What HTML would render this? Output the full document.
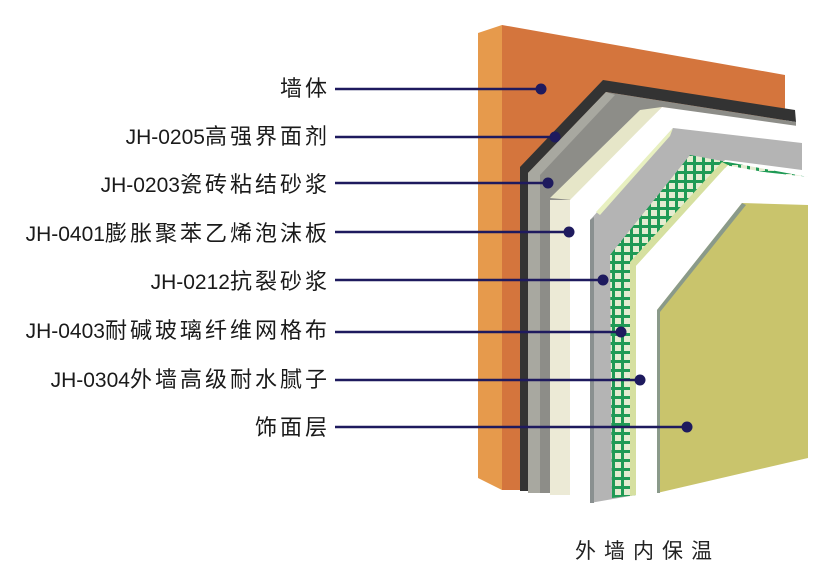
<!DOCTYPE html>
<html><head><meta charset="utf-8"><style>
html,body{margin:0;padding:0;background:#fff;}
body{width:826px;height:570px;overflow:hidden;position:relative;font-family:"Liberation Sans","Noto Sans CJK SC",sans-serif;}
.l{position:absolute;right:496px;font-size:22px;letter-spacing:3px;color:#1a1a1a;white-space:nowrap;line-height:24px;font-family:"Noto Sans CJK SC",sans-serif;}
.l span{font-family:"Liberation Sans",sans-serif;font-size:21px;letter-spacing:0;}
</style></head><body>
<svg width="826" height="570" style="position:absolute;left:0;top:0">
<defs>
<pattern id="mesh" width="9" height="9" patternUnits="userSpaceOnUse">
<rect width="9" height="9" fill="#e4ecd0"/>
<rect x="0" y="0" width="3" height="9" fill="#1f9a55"/>
<rect x="0" y="0" width="9" height="3" fill="#1f9a55"/>
</pattern>
</defs>
<polygon points="502,25 785,75 785,470 520,490 502,490" fill="#d4753d"/>
<polygon points="478,33 502,25 502,490 478,478" fill="#e69a4c"/>
<polygon points="520,167 603,80 795,110 796,122 606,92 528,173 528,491 520,491" fill="#333"/>
<polygon points="528,173 606,92 796,122 796,130 662,107 570,200 550,200 550,493 528,493" fill="#8d8d88"/>
<polygon points="528,173 606,92 615,95 540,175 540,493 528,493" fill="#a8a8a0"/>
<polygon points="550,200 570,200 570,495 550,495" fill="#ecead6"/>
<polygon points="550,198 640,110 662,107 572,200" fill="#e6e6c8"/>
<polygon points="570,200 662,107 826,130 826,500 570,500" fill="#ffffff"/>
<polygon points="590,220 673,128 802,143 802,170 725,160 636,260 636,495 590,503" fill="#b4b4b4"/>
<polygon points="590,220 594,217 594,503 590,503" fill="#8a9090"/>
<polygon points="600,215 670,136 673,128 596,212" fill="#e8f0c0"/>
<polygon points="610,255 690,155 808,177 808,180 725,165 636,262 636,495 612,498" fill="url(#mesh)"/>
<polygon points="630,262 722,162 728,165 636,266 636,495 630,496" fill="#d6e0a0"/>
<polygon points="636,266 725,168 810,177 826,178 826,205 742,203 657,310 657,493 636,495" fill="#ffffff"/>
<polygon points="657,310 742,203 808,205 808,458 657,493" fill="#c9c46c"/>
<polygon points="657,310 742,203 746,205 660,312 660,493 657,493" fill="#8a9a8a"/>
<g stroke="#1e1a5e" stroke-width="2.5">
<line x1="335" y1="89" x2="541" y2="89"/>
<line x1="335" y1="137" x2="555" y2="137"/>
<line x1="335" y1="183" x2="548" y2="183"/>
<line x1="335" y1="232" x2="569" y2="232"/>
<line x1="335" y1="280" x2="603" y2="280"/>
<line x1="335" y1="332" x2="621" y2="332"/>
<line x1="335" y1="380" x2="640" y2="380"/>
<line x1="335" y1="427" x2="687" y2="427"/>
</g>
<g fill="#1e1a5e">
<circle cx="541" cy="89" r="5.5"/><circle cx="555" cy="137" r="5.5"/>
<circle cx="548" cy="183" r="5.5"/><circle cx="569" cy="232" r="5.5"/>
<circle cx="603" cy="280" r="5.5"/><circle cx="621" cy="332" r="5.5"/>
<circle cx="640" cy="380" r="5.5"/><circle cx="687" cy="427" r="5.5"/>
</g>
</svg>
<div class="l" style="top:75px">墙体</div>
<div class="l" style="top:123px"><span>JH-0205</span>高强界面剂</div>
<div class="l" style="top:171px"><span>JH-0203</span>瓷砖粘结砂浆</div>
<div class="l" style="top:220px"><span>JH-0401</span>膨胀聚苯乙烯泡沫板</div>
<div class="l" style="top:268px"><span>JH-0212</span>抗裂砂浆</div>
<div class="l" style="top:317px"><span>JH-0403</span>耐碱玻璃纤维网格布</div>
<div class="l" style="top:366px"><span>JH-0304</span>外墙高级耐水腻子</div>
<div class="l" style="top:414px">饰面层</div>
<div style="position:absolute;left:575px;top:535px;font-size:21px;letter-spacing:8px;color:#222;font-family:'Noto Sans CJK SC',sans-serif;">外墙内保温</div>
</body></html>
